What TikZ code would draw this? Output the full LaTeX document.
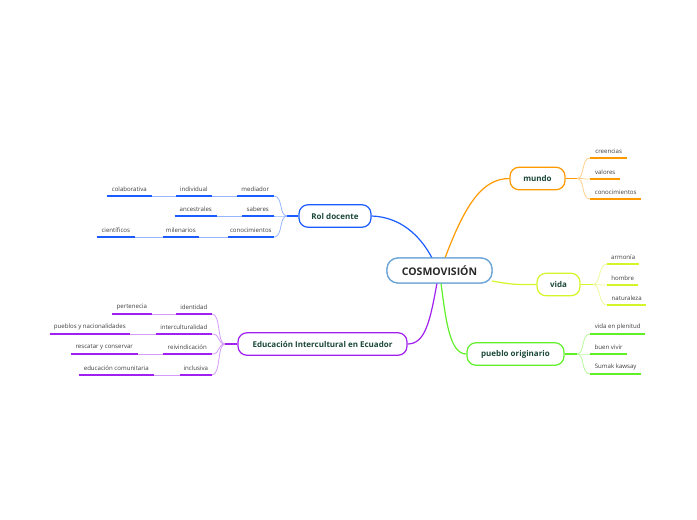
\documentclass[tikz,border=0pt]{standalone}
\usepackage{fontspec}
\setmainfont{Open Sans}
\definecolor{cblue}{RGB}{26,92,255}
\definecolor{corange}{RGB}{255,153,0}
\definecolor{cyellow}{RGB}{214,245,40}
\definecolor{cgreen}{RGB}{95,240,40}
\definecolor{cpurple}{RGB}{160,32,240}
\definecolor{ctext}{RGB}{28,72,58}
\definecolor{cctr}{RGB}{110,165,215}
\definecolor{csub}{RGB}{60,60,60}
\tikzset{
  ctrbox/.style={draw=cctr, line width=1.3pt, fill=white, rounded corners=11pt,
    minimum width=105pt, minimum height=25pt, inner sep=0pt,
    font=\fontsize{10.5}{12}\selectfont\bfseries, text={rgb,255:red,40;green,40;blue,40}},
  mainbox/.style={draw=#1, line width=1.2pt, fill=white, rounded corners=9pt,
    minimum height=22.5pt, inner sep=0pt, font=\fontsize{8}{10}\selectfont\bfseries, text=ctext},
  leaf/.style={inner sep=0pt, minimum height=13.5pt, font=\fontsize{6.1}{7}\selectfont, text=csub},
  uline/.style={draw=#1, line width=1.5pt},
  branch/.style={draw=#1, line width=1.2pt},
  twig/.style={draw=#1!45, line width=0.8pt},
}
\begin{document}
\begin{tikzpicture}[x=1pt,y=-1pt]
\useasboundingbox (0,0) rectangle (697,520);
% central
\node[ctrbox] (ctr) at (439.5,270.5) {COSMOVISIÓN};
% main nodes
\node[mainbox=corange, minimum width=55pt] (mundo) at (537.5,178.5) {mundo};
\node[mainbox=cyellow, minimum width=43pt] (vida) at (558.5,284.5) {vida};
\node[mainbox=cgreen, minimum width=97pt] (pueblo) at (515.5,354) {pueblo originario};
\node[mainbox=cblue, minimum width=72pt] (rol) at (335,216) {Rol docente};
\node[mainbox=cpurple, minimum width=169pt] (edu) at (322.5,344) {Educación Intercultural en Ecuador};
% main connectors
\coordinate (cb) at (432,258);
\coordinate (co) at (445,258);
\coordinate (cy) at (492,281);
\coordinate (cg) at (441,283);
\coordinate (cp) at (437,283);
\draw[branch=cblue] (cb) .. controls (420,235) and (400,217) .. (rol.east);
\draw[branch=corange] (co) .. controls (465,205) and (482,178.5) .. (mundo.west);
\draw[branch=cyellow] (cy) .. controls (515,285) and (515,284.5) .. (vida.west);
\draw[branch=cgreen] (cg) .. controls (446,322) and (450,354) .. (pueblo.west);
\draw[branch=cpurple] (cp) .. controls (430,322) and (425,344) .. (edu.east);
\node[ctrbox] at (ctr) {COSMOVISIÓN};

% ---------- mundo ----------
\node[leaf, anchor=south west, minimum width=37pt] (m1) at (590,158) {creencias};
\node[leaf, anchor=south west, minimum width=30pt] (m2) at (590,179) {valores};
\node[leaf, anchor=south west, minimum width=51pt] (m3) at (590,199) {conocimientos};
\coordinate (jm) at (577,178.5);
\draw[branch=corange] (mundo.east) -- (jm);
\foreach \c in {m1,m2,m3}{
  \draw[twig=corange] (jm) .. controls (585,178.5) and (581,0|-\c.south west) .. (\c.south west);
  \draw[uline=corange] (\c.south west) -- (\c.south east);
}

% ---------- vida ----------
\node[leaf, anchor=south west, minimum width=32pt] (v1) at (607,264) {armonía};
\node[leaf, anchor=south west, minimum width=31pt] (v2) at (607,285) {hombre};
\node[leaf, anchor=south west, minimum width=39pt] (v3) at (607,305) {naturaleza};
\coordinate (jv) at (593,284.5);
\draw[branch=cyellow] (vida.east) -- (jv);
\foreach \c in {v1,v2,v3}{
  \draw[twig=cyellow] (jv) .. controls (601,284.5) and (598,0|-\c.south west) .. (\c.south west);
  \draw[uline=cyellow] (\c.south west) -- (\c.south east);
}

% ---------- pueblo originario ----------
\node[leaf, anchor=south west, minimum width=55pt] (p1) at (590,334) {vida en plenitud};
\node[leaf, anchor=south west, minimum width=37pt] (p2) at (590,354) {buen vivir};
\node[leaf, anchor=south west, minimum width=51pt] (p3) at (590,374) {Sumak kawsay};
\coordinate (jp) at (577,354);
\draw[branch=cgreen] (pueblo.east) -- (jp);
\foreach \c in {p1,p2,p3}{
  \draw[twig=cgreen] (jp) .. controls (585,354) and (581,0|-\c.south west) .. (\c.south west);
  \draw[uline=cgreen] (\c.south west) -- (\c.south east);
}

% ---------- Rol docente ----------
\node[leaf, anchor=south east, minimum width=37pt] (r1) at (274,196) {mediador};
\node[leaf, anchor=south east, minimum width=36pt] (r1a) at (212,196) {individual};
\node[leaf, anchor=south east, minimum width=45pt] (r1b) at (152,196) {colaborativa};
\node[leaf, anchor=south east, minimum width=32pt] (r2) at (274,216) {saberes};
\node[leaf, anchor=south east, minimum width=42pt] (r2a) at (217,216) {ancestrales};
\node[leaf, anchor=south east, minimum width=46pt] (r3) at (274,237) {conocimientos};
\node[leaf, anchor=south east, minimum width=36pt] (r3a) at (199,237) {milenarios};
\node[leaf, anchor=south east, minimum width=38pt] (r3b) at (135,237) {científicos};
\coordinate (jr) at (287,216);
\draw[branch=cblue] (rol.west) -- (jr);
\foreach \c in {r1,r2,r3}{
  \draw[twig=cblue] (jr) .. controls (279,216) and (283,0|-\c.south east) .. (\c.south east);
}
\draw[twig=cblue] (r1.south west) -- (r1a.south east);
\draw[twig=cblue] (r1a.south west) -- (r1b.south east);
\draw[twig=cblue] (r2.south west) -- (r2a.south east);
\draw[twig=cblue] (r3.south west) -- (r3a.south east);
\draw[twig=cblue] (r3a.south west) -- (r3b.south east);
\foreach \c in {r1,r1a,r1b,r2,r2a,r3,r3a,r3b}{
  \draw[uline=cblue] (\c.south west) -- (\c.south east);
}

% ---------- Educación ----------
\node[leaf, anchor=south east, minimum width=36pt] (e1) at (212,314) {identidad};
\node[leaf, anchor=south east, minimum width=40pt] (e1a) at (152,314) {pertenecia};
\node[leaf, anchor=south east, minimum width=56pt] (e2) at (212,334) {interculturalidad};
\node[leaf, anchor=south east, minimum width=80pt] (e2a) at (130,334) {pueblos y nacionalidades};
\node[leaf, anchor=south east, minimum width=49pt] (e3) at (212,354) {reivindicación};
\node[leaf, anchor=south east, minimum width=67pt] (e3a) at (138,354) {rescatar y conservar};
\node[leaf, anchor=south east, minimum width=32pt] (e4) at (212,375) {inclusiva};
\node[leaf, anchor=south east, minimum width=75pt] (e4a) at (154,375) {educación comunitaria};
\coordinate (je) at (225,344);
\draw[branch=cpurple] (edu.west) -- (je);
\foreach \c in {e1,e2,e3,e4}{
  \draw[twig=cpurple] (je) .. controls (217,344) and (221,0|-\c.south east) .. (\c.south east);
}
\draw[twig=cpurple] (e1.south west) -- (e1a.south east);
\draw[twig=cpurple] (e2.south west) -- (e2a.south east);
\draw[twig=cpurple] (e3.south west) -- (e3a.south east);
\draw[twig=cpurple] (e4.south west) -- (e4a.south east);
\foreach \c in {e1,e1a,e2,e2a,e3,e3a,e4,e4a}{
  \draw[uline=cpurple] (\c.south west) -- (\c.south east);
}
\end{tikzpicture}
\end{document}
